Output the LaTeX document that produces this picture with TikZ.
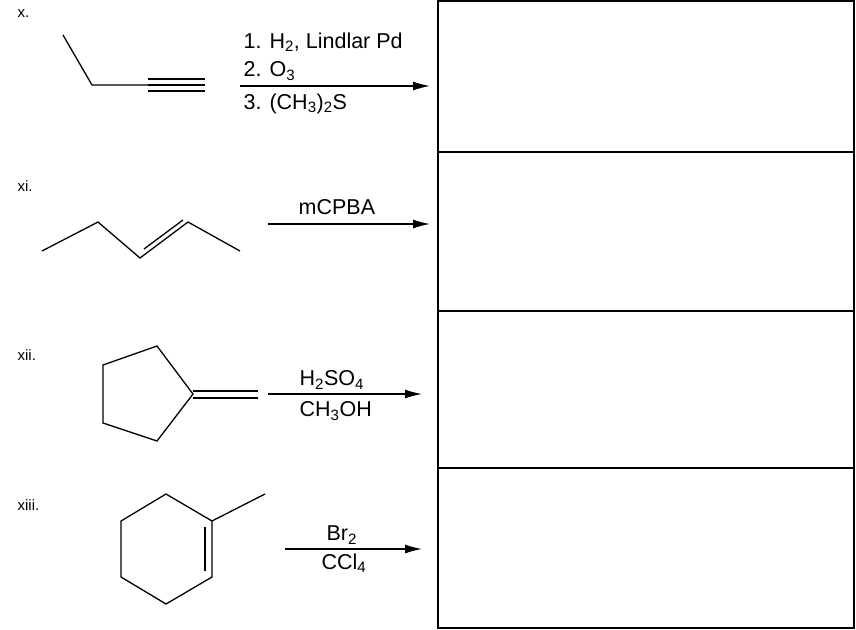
\documentclass[tikz,border=0pt]{standalone}
\usepackage{fontspec}
\setmainfont{Liberation Sans}
\usetikzlibrary{arrows.meta}
\newcommand{\sbs}[1]{\textsubscript{#1}}
\begin{document}
\begin{tikzpicture}[x=1pt,y=-1pt,line width=1.3pt,
  txt/.style={inner sep=0pt,font=\fontsize{21.5}{23}\selectfont,anchor=west},
  lbl/.style={inner sep=0pt,font=\fontsize{15}{17}\selectfont,anchor=west},
  rx/.style={-{Latex[length=17pt,width=9pt]},line width=1.3pt}]
\useasboundingbox (0,0) rectangle (856,629);
% boxes
\draw (438,1) rectangle (854,628);
\foreach \y in {152,311,468} \draw (438,\y) -- (854,\y);
% x
\node[lbl] (lx) at (17,14) {x.};
\draw (63,35) -- (92,85) -- (148,85);
\draw (148,85) -- (205,85);
\draw (148,79) -- (205,79);
\draw (148,91) -- (205,91);
\node[txt] (t1) at (243,42) {1. H\sbs{2}, Lindlar Pd};
\node[txt] (t2) at (243,71) {2. O\sbs{3}};
\node[txt] (t3) at (243,104) {3. (CH\sbs{3})\sbs{2}S};
\coordinate (a1) at (240,86); \coordinate (b1) at (430,86);
\draw[rx] (a1) -- (b1);
% xi
\node[lbl] (lxi) at (17,186) {xi.};
\draw (42,251) -- (98,222) -- (140,258) -- (188,222) -- (240,251);
\draw (144,249) -- (183,220);
\node[txt] (t4) at (298,207) {mCPBA};
\coordinate (a2) at (268,224); \coordinate (b2) at (430,224);
\draw[rx] (a2) -- (b2);
% xii
\node[lbl] (lxii) at (17,355) {xii.};
\draw (103,365) -- (157,346) -- (193,394) -- (157,441) -- (103,423) -- cycle;
\draw (193,391) -- (258,391);
\draw (193,398) -- (258,398);
\node[txt] (t5) at (299,380) {H\sbs{2}SO\sbs{4}};
\node[txt] (t6) at (299,411) {CH\sbs{3}OH};
\coordinate (a3) at (268,394); \coordinate (b3) at (422,394);
\draw[rx] (a3) -- (b3);
% xiii
\node[lbl] (lxiii) at (17,505) {xiii.};
\draw (166,494) -- (212,521) -- (212,577) -- (166,604) -- (121,577) -- (121,521) -- cycle;
\draw (212,521) -- (265,494);
\draw (205,527) -- (205,571);
\node[txt] (t7) at (326,535) {Br\sbs{2}};
\node[txt] (t8) at (321,563) {CCl\sbs{4}};
\coordinate (a4) at (285,549); \coordinate (b4) at (422,549);
\draw[rx] (a4) -- (b4);
\end{tikzpicture}
\end{document}
